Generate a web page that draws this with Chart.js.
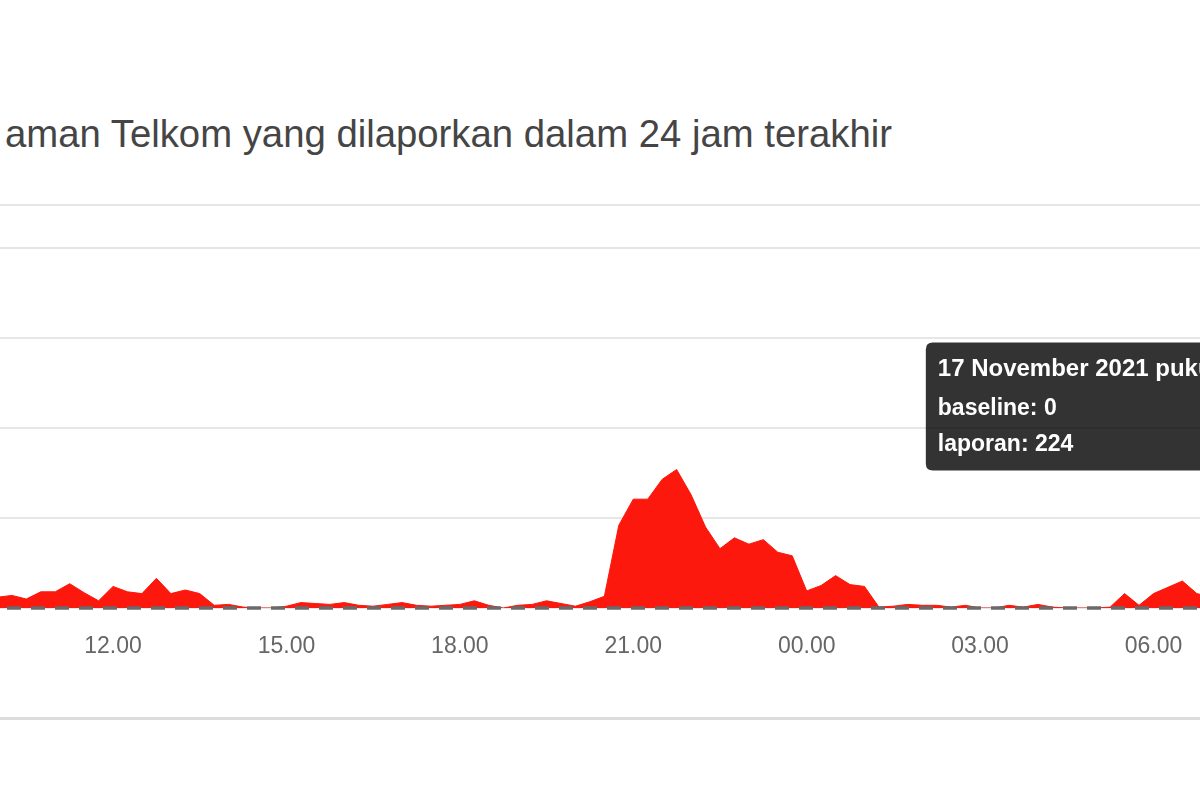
<!DOCTYPE html>
<html>
<head>
<meta charset="utf-8">
<script src="https://cdn.jsdelivr.net/npm/chart.js"></script>
<style>
  html, body { margin: 0; padding: 0; background: #fff; width: 1200px; height: 800px; overflow: hidden; position: relative; }
  #title { position: absolute; left: 5px; top: 115px; font-family: 'Liberation Sans', Arial, sans-serif; font-size: 38.3px; line-height: 38.5px; color: #454545; white-space: nowrap; }
  #topRule { position: absolute; left: 0; top: 204px; width: 1200px; height: 2px; background: #e6e6e6; }
  #bottomRule { position: absolute; left: 0; top: 717px; width: 1200px; height: 3px; background: #dcdcdc; }
  #wrap { position: absolute; left: -77px; top: 225px; width: 1392px; height: 463px; }
</style>
</head>
<body>
<div id="title">aman Telkom yang dilaporkan dalam 24 jam terakhir</div>
<div id="topRule"></div>
<div id="bottomRule"></div>
<div id="wrap"><canvas id="c"></canvas></div>
<script>
// 15-minute slots, 16 Nov 2021 09.45 -> 17 Nov 2021 08.30
const times = [
  '09.45','10.00','10.15','10.30','10.45','11.00','11.15','11.30','11.45',
  '12.00','12.15','12.30','12.45','13.00','13.15','13.30','13.45',
  '14.00','14.15','14.30','14.45','15.00','15.15','15.30','15.45',
  '16.00','16.15','16.30','16.45','17.00','17.15','17.30','17.45',
  '18.00','18.15','18.30','18.45','19.00','19.15','19.30','19.45',
  '20.00','20.15','20.30','20.45','21.00','21.15','21.30','21.45',
  '22.00','22.15','22.30','22.45','23.00','23.15','23.30','23.45',
  '00.00','00.15','00.30','00.45','01.00','01.15','01.30','01.45',
  '02.00','02.15','02.30','02.45','03.00','03.15','03.30','03.45',
  '04.00','04.15','04.30','04.45','05.00','05.15','05.30','05.45',
  '06.00','06.15','06.30','06.45','07.00','07.15','07.30','07.45',
  '08.00','08.15','08.30'
];
const tickLabels = ['12.00','15.00','18.00','21.00','00.00','03.00','06.00'];
const days = ['16 November 2021', '17 November 2021'];

const laporan = [
  10, 12, 14, 10, 18, 18, 27, 17, 8,
  24, 18, 16, 33, 16, 20, 16, 3,
  4, 1, 0, 0, 2, 6, 5, 4,
  6, 3, 2, 4, 6, 3, 2, 3,
  4, 8, 3, 0, 3, 4, 8, 5,
  2, 7, 13, 92, 121, 121, 143, 154,
  126, 90, 66, 78, 71, 76, 62, 58,
  19, 25, 36, 26, 24, 1, 2, 4,
  3, 3, 1, 3, 0, 0, 3, 1,
  4, 1, 0, 0, 0, 1, 16, 3,
  16, 23, 30, 16, 12, 25, 48, 80,
  130, 185, 224
];
const baseline = [
  0, 0, 0, 0, 0, 0, 0, 0, 0,
  0, 0, 0, 0, 0, 0, 0, 0,
  0, 0, 0, 0, 0, 0, 0, 0,
  0, 0, 0, 0, 0, 0, 0, 0,
  0, 0, 0, 0, 0, 0, 0, 0,
  0, 0, 0, 0, 0, 0, 0, 0,
  0, 0, 0, 0, 0, 0, 0, 0,
  0, 0, 0, 0, 0, 0, 0, 0,
  0, 0, 0, 0, 0, 0, 0, 0,
  0, 0, 0, 0, 0, 0, 0, 0,
  0, 0, 0, 0, 0, 0, 0, 0,
  0, 0, 0
];
const yTicks = [0, 100, 200, 300, 400];
const hoverIndex = times.length - 1;
const midnightIndex = times.indexOf('00.00');

const FONT = "'Liberation Sans', Arial, sans-serif";

const chart = new Chart(document.getElementById('c'), {
  type: 'line',
  data: {
    labels: times,
    datasets: [
      {
        label: 'baseline',
        data: baseline,
        borderColor: '#6a6a6a',
        borderWidth: 3.5,
        borderDash: [14, 10],
        pointRadius: 0,
        pointHoverRadius: 0,
        fill: false,
        tension: 0,
        clip: false
      },
      {
        label: 'laporan',
        data: laporan,
        borderColor: 'rgb(252, 24, 12)',
        backgroundColor: 'rgb(252, 24, 12)',
        borderWidth: 1,
        pointRadius: 0,
        pointHoverRadius: 0,
        fill: 'origin',
        tension: 0
      }
    ]
  },
  options: {
    responsive: true,
    maintainAspectRatio: false,
    animation: false,
    events: [],
    layout: { padding: { top: 16, right: 10, bottom: 0, left: 0 } },
    scales: {
      x: {
        grid: { display: false },
        border: { display: false },
        ticks: {
          autoSkip: false,
          maxRotation: 0,
          minRotation: 0,
          padding: 17,
          color: '#666',
          font: { family: FONT, size: 23 },
          callback: function (v, i) {
            const t = times[i];
            return tickLabels.includes(t) ? t : '';
          }
        },
        afterFit: function (s) { s.height = 80; }
      },
      y: {
        min: yTicks[0],
        max: yTicks[yTicks.length - 1],
        grid: { color: '#e6e6e6', lineWidth: 2, drawTicks: false },
        border: { display: false },
        ticks: {
          stepSize: yTicks[1] - yTicks[0],
          color: '#666',
          font: { family: FONT, size: 22 },
          padding: 10
        },
        afterFit: function (s) { s.width = 60; }
      }
    },
    plugins: {
      legend: { display: false },
      title: { display: false },
      tooltip: {
        enabled: true,
        mode: 'index',
        intersect: false,
        position: 'nearest',
        displayColors: false,
        backgroundColor: 'rgba(0,0,0,0.8)',
        titleColor: '#fff',
        bodyColor: '#fff',
        titleFont: { family: FONT, size: 24, weight: 'bold' },
        bodyFont: { family: FONT, size: 23, weight: 'bold' },
        padding: 12,
        titleMarginBottom: 12,
        bodySpacing: 8,
        cornerRadius: 7,
        caretSize: 0,
        caretPadding: 0,
        callbacks: {
          title: function (items) {
            const i = items[0].dataIndex;
            return (i >= midnightIndex ? days[1] : days[0]) + ' pukul ' + times[i];
          }
        }
      }
    }
  }
});

const pt = chart.getDatasetMeta(1).data[hoverIndex];
chart.tooltip.setActiveElements(
  [{ datasetIndex: 0, index: hoverIndex }, { datasetIndex: 1, index: hoverIndex }],
  { x: pt.x, y: pt.y }
);
chart.update();
</script>
</body>
</html>
